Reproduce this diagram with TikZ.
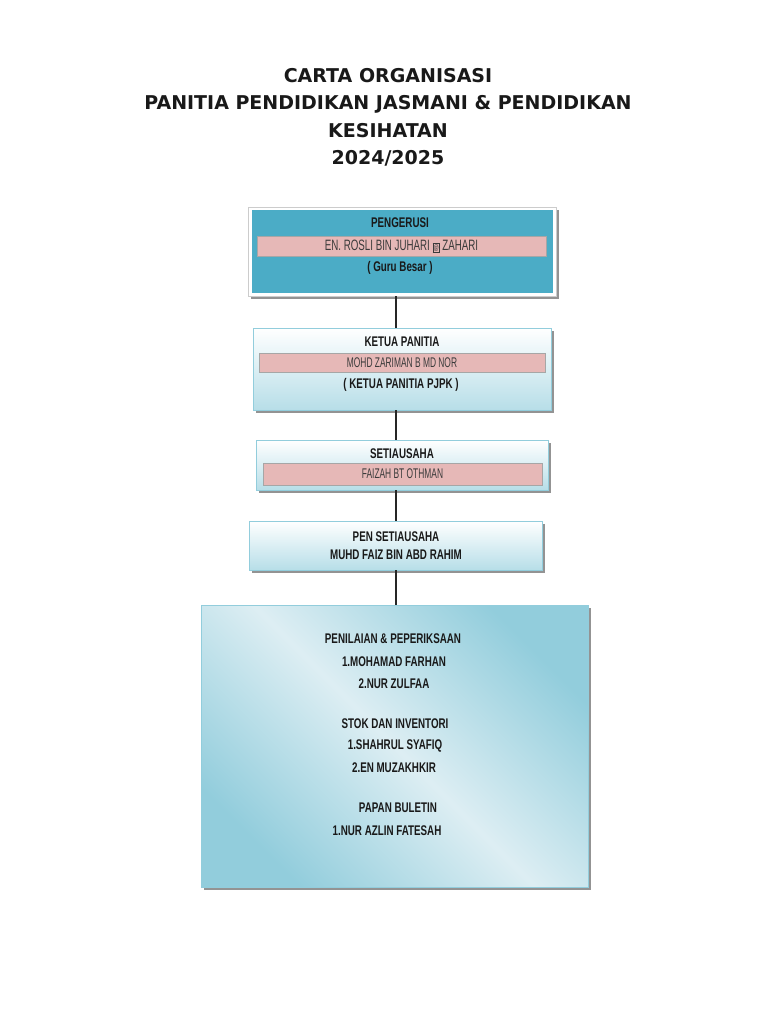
\documentclass[tikz,border=0pt]{standalone}
\usepackage{fontspec}
\setmainfont{Liberation Sans}
\newfontfamily\titlefont{DejaVu Sans}
\newfontfamily\agb[FakeStretch=0.7]{Liberation Sans}
\newfontfamily\agn[FakeStretch=0.6]{Liberation Sans}
\newfontfamily\agw[FakeStretch=0.65]{Liberation Sans}
\usetikzlibrary{shadows}
\definecolor{teal1}{RGB}{75,172,198}
\definecolor{pinkbar}{RGB}{230,184,183}
\definecolor{lblue}{RGB}{183,222,232}
\definecolor{dblue}{RGB}{146,205,220}
\definecolor{pblue}{RGB}{221,238,243}
\definecolor{bord}{RGB}{146,205,220}
\definecolor{txt}{RGB}{25,25,25}
\tikzset{
  shad/.style={drop shadow={shadow xshift=3pt,shadow yshift=-3pt,fill=gray!85,opacity=1}},
  gradbox/.style={shad,draw=bord,line width=0.8pt,top color=white,bottom color=lblue,inner sep=0pt},
  pbar/.style={draw=gray!70,fill=pinkbar,line width=0.5pt,inner sep=0pt},
  ttl/.style={font=\titlefont\bfseries\fontsize{19}{22}\selectfont,text=txt,inner sep=0pt},
  lbl/.style={font=\agb\bfseries\fontsize{14}{16}\selectfont,text=txt,inner sep=0pt},
  nm/.style={font=\agn\fontsize{14}{16}\selectfont,text=txt!85,inner sep=0pt},
  nmbig/.style={font=\agw\fontsize{15}{17}\selectfont,text=txt!85,inner sep=0pt},
  conn/.style={draw=gray!30!black,line width=1.1pt}
}
\begin{document}
\begin{tikzpicture}[x=1pt,y=-1pt]
\useasboundingbox[fill=white] (0,0) rectangle (768,1024);
% title
\node[ttl] (t1) at (388,76) {CARTA ORGANISASI};
\node[ttl] (t2) at (388,104) {PANITIA PENDIDIKAN JASMANI \& PENDIDIKAN};
\node[ttl] (t3) at (388,131) {KESIHATAN};
\node[ttl] (t4) at (388,158) {2024/2025};
\coordinate (axis) at (396,0);
% box 1
\node[shad,draw=gray!40,fill=white,line width=0.5pt,minimum width=308pt,minimum height=89pt,inner sep=0pt] (b1) at (402,251.5) {};
\node[fill=teal1,minimum width=301pt,minimum height=82pt,inner sep=0pt] (b1in) at (b1.center) {};
\node[pbar,minimum width=289pt,minimum height=20pt] (p1) at (401.5,246) {};
\node[lbl] (l1a) at (400,223) {PENGERUSI};
\node[nmbig] (l1b) at (p1.center) {EN. ROSLI BIN JUHARI {\setlength\fboxsep{0.4pt}\setlength\fboxrule{0.5pt}\raisebox{0.3pt}{\fbox{\fontsize{8}{9}\selectfont @}}} ZAHARI};
\node[lbl] (l1c) at (400,268) {( Guru Besar )};
% box 2
\node[gradbox,minimum width=298pt,minimum height=82pt] (b2) at (402,369) {};
\node[pbar,minimum width=286pt,minimum height=19pt] (p2) at (402,362.5) {};
\node[lbl] (l2a) at (402,342) {KETUA PANITIA};
\node[nm] (l2b) at (p2.center) {MOHD ZARIMAN B MD NOR};
\node[lbl] (l2c) at (401,385) {( KETUA PANITIA PJPK )};
% box 3
\node[gradbox,minimum width=292pt,minimum height=50pt] (b3) at (402,465) {};
\node[pbar,minimum width=279pt,minimum height=22pt] (p3) at (402.5,474) {};
\node[lbl] (l3a) at (402,454) {SETIAUSAHA};
\node[nm] (l3b) at (p3.center) {FAIZAH BT OTHMAN};
% box 4
\node[gradbox,minimum width=293pt,minimum height=49pt] (b4) at (395.5,545.5) {};
\node[lbl] (l4a) at (396,537) {PEN SETIAUSAHA};
\node[lbl] (l4b) at (396,555) {MUHD FAIZ BIN ABD RAHIM};
% box 5
\node[shad,draw=bord,line width=0.8pt,inner sep=0pt,minimum width=387pt,minimum height=282pt,
  shading=axis,top color=dblue,bottom color=dblue,middle color=pblue,shading angle=135] (b5) at (394.5,746) {};
\node[lbl] (l5a) at (393,639) {PENILAIAN \& PEPERIKSAAN};
\node[lbl] (l5b) at (394,662) {1.MOHAMAD FARHAN};
\node[lbl] (l5c) at (394,684) {2.NUR ZULFAA};
\node[lbl] (l5d) at (395,724) {STOK DAN INVENTORI};
\node[lbl] (l5e) at (395,746) {1.SHAHRUL SYAFIQ};
\node[lbl] (l5f) at (394,768) {2.EN MUZAKHKIR};
\node[lbl] (l5g) at (398,808) {PAPAN BULETIN};
\node[lbl] (l5h) at (387,831) {1.NUR AZLIN FATESAH};
% connectors
\draw[conn] (b1.south -| axis) -- (b2.north -| axis);
\draw[conn] (b2.south -| axis) -- (b3.north -| axis);
\draw[conn] (b3.south -| axis) -- (b4.north -| axis);
\draw[conn] (b4.south -| axis) -- (b5.north -| axis);
\end{tikzpicture}
\end{document}
